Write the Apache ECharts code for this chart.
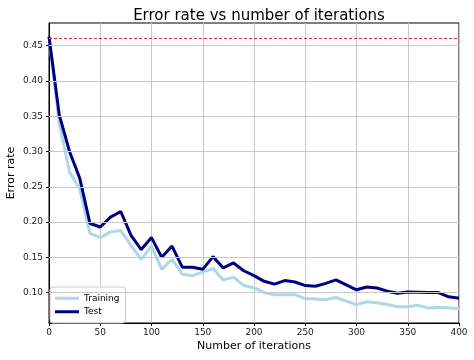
<!DOCTYPE html>
<html>
<head>
<meta charset="utf-8">
<script src="https://cdn.jsdelivr.net/npm/echarts@6/dist/echarts.min.js"></script>
<style>html,body{margin:0;padding:0;background:#fff;}#c{width:474px;height:360px;}</style>
</head>
<body>
<div id="c"></div>
<script>
var iterations = [0,10,20,30,40,50,60,70,80,90,100,110,120,130,140,150,160,170,180,190,200,210,220,230,240,250,260,270,280,290,300,310,320,330,340,350,360,370,380,390,400];
var trainingError = [0.462,0.340,0.271,0.247,0.184,0.178,0.186,0.188,0.167,0.147,0.166,0.133,0.147,0.126,0.124,0.129,0.134,0.118,0.122,0.110,0.107,0.100,0.097,0.097,0.097,0.0915,0.091,0.090,0.093,0.088,0.083,0.087,0.0855,0.083,0.080,0.080,0.082,0.078,0.079,0.0785,0.077];
var testError = [0.463,0.352,0.300,0.262,0.198,0.193,0.207,0.215,0.181,0.161,0.178,0.150,0.166,0.136,0.136,0.133,0.151,0.135,0.142,0.131,0.124,0.116,0.112,0.117,0.115,0.110,0.109,0.113,0.118,0.111,0.104,0.108,0.1065,0.102,0.099,0.101,0.1005,0.100,0.100,0.094,0.092];
var baselineError = 0.4635;
var xTicks = [0,50,100,150,200,250,300,350,400];
var yTicks = [0.10,0.15,0.20,0.25,0.30,0.35,0.40,0.45];

function pairs(xs, ys){ return xs.map(function(x,i){ return [x, ys[i]]; }); }

var font = 'DejaVu Sans';
var chart = echarts.init(document.getElementById('c'), null, {renderer:'canvas'});
chart.setOption({
  animation:false,
  backgroundColor:'#ffffff',
  title:{text:'Error rate vs number of iterations', left:254, textAlign:'center', top:4,
    textStyle:{fontFamily:font, fontSize:15, fontWeight:'normal', color:'#000'}},
  grid:{left:49, right:15, top:23, bottom:37, containLabel:false, outerBoundsMode:'none',
    show:true, borderColor:'#000', borderWidth:1, backgroundColor:'transparent'},
  legend:{
    orient:'vertical', left:50, top:287, padding:[6,6,6,5],
    backgroundColor:'rgba(255,255,255,0.85)', borderColor:'#cccccc', borderWidth:1, borderRadius:3,
    itemWidth:24, itemHeight:3, itemGap:3, icon:'rect',
    textStyle:{fontFamily:font, fontSize:9, color:'#000', lineHeight:10.5},
    data:['Training','Test']
  },
  xAxis:{
    type:'value', min:0, max:400, interval:50,
    name:'Number of iterations', nameLocation:'middle', nameGap:18, nameMoveOverlap:false,
    nameTextStyle:{fontFamily:font, fontSize:11, color:'#000'},
    axisLine:{show:true, onZero:false, lineStyle:{color:'#000', width:1}},
    axisTick:{show:true, length:3, lineStyle:{color:'#000'}},
    axisLabel:{fontFamily:font, fontSize:9, color:'#222', margin:5},
    splitLine:{show:true, lineStyle:{color:'#c8c8c8', width:1}}
  },
  yAxis:{
    type:'value', min:0.0569, max:0.4822,
    name:'Error rate', nameLocation:'middle', nameGap:32, nameMoveOverlap:false,
    nameTextStyle:{fontFamily:font, fontSize:11, color:'#000'},
    axisLine:{show:true, onZero:false, lineStyle:{color:'#000', width:1}},
    axisTick:{show:true, length:3, lineStyle:{color:'#000'}, customValues:yTicks},
    axisLabel:{fontFamily:font, fontSize:9, color:'#222', margin:6, customValues:yTicks,
      formatter:function(v){ return v.toFixed(2); }},
    splitLine:{show:false}
  },
  series:[
    {name:'Training', type:'line', showSymbol:false, symbol:'none', data:pairs(iterations, trainingError),
      lineStyle:{color:'#add8e6', width:3}, itemStyle:{color:'#add8e6'}, z:2,
      markLine:{silent:true, symbol:'none', label:{show:false},
        lineStyle:{color:'#e8283c', type:[3,2], width:1},
        data:[{yAxis:baselineError}]}},
    {name:'Test', type:'line', showSymbol:false, symbol:'none', data:pairs(iterations, testError),
      lineStyle:{color:'#00007f', width:3}, itemStyle:{color:'#00007f'}, z:3},
    {name:'ygrid', type:'line', data:[], markLine:{silent:true, symbol:'none', label:{show:false},
      lineStyle:{color:'#c8c8c8', type:'solid', width:1},
      data:yTicks.map(function(v){ return {yAxis:v}; })}, z:1}
  ]
});
</script>
</body>
</html>
